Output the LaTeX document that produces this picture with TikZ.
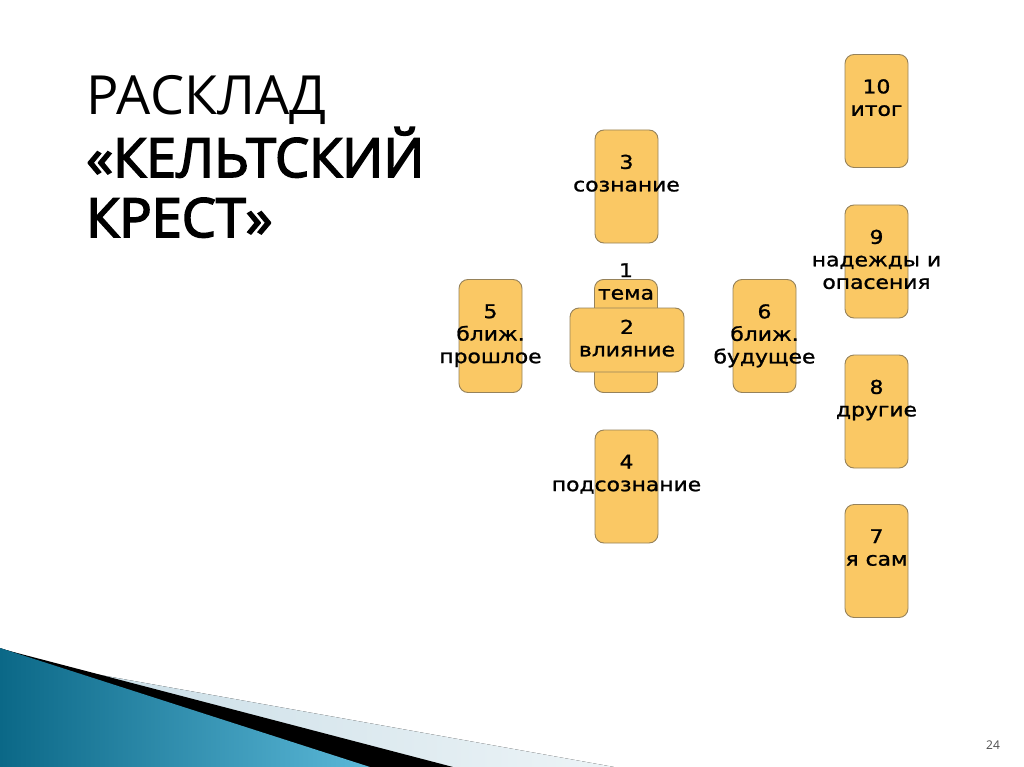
\documentclass[tikz,border=0pt]{standalone}
\usepackage{fontspec}
\setmainfont{Open Sans}
\newfontfamily\cardfont[FakeStretch=1.15,FakeBold=1.2]{DejaVu Sans}
\newfontfamily\boldA[FakeBold=3]{Open Sans}
\usetikzlibrary{calc}
\definecolor{cardfill}{HTML}{FAC864}
\definecolor{cardedge}{HTML}{96825A}
\definecolor{blueA}{HTML}{0B6887}
\definecolor{blueM}{HTML}{3E9FC2}
\definecolor{blueB}{HTML}{5BB8D8}
\definecolor{paleA}{HTML}{C4DAE4}
\definecolor{paleB}{HTML}{EDF4F7}
\begin{document}
\begin{tikzpicture}[x=1pt,y=-1pt,
  card/.style={draw=cardedge,fill=cardfill,line width=0.9pt,rounded corners=9pt,
    minimum width=63pt,minimum height=113pt,inner sep=0pt},
  hcard/.style={card,minimum width=114pt,minimum height=64pt},
  lbl/.style={font=\cardfont\fontsize{19}{22.5}\selectfont,align=center,anchor=north,inner sep=0pt},
  ttl/.style={anchor=base west,inner sep=0pt,font=\fontsize{54}{61}\selectfont},
  ttlA/.style={ttl,font=\boldA\fontsize{54}{61}\selectfont}]
\useasboundingbox[fill=white] (0,0) rectangle (1024,767);
% bottom decoration
\fill[left color=paleA,right color=paleB] (0,657) -- (614,767) -- (0,767) -- cycle;
\fill[black] (0,648.5) -- (453,767) -- (0,767) -- cycle;
\fill[left color=blueA,middle color=blueM,right color=blueB] (0,648) -- (370,767) -- (0,767) -- cycle;
% title
\node[ttl] (title1) at (86,115) {РАСКЛАД};
\node[ttlA] (title2) at (86,177) {«КЕЛЬТСКИЙ};
\node[ttlA] (title3) at (86,237) {КРЕСТ»};
% cards
\node[card] (c10) at (876.5,111) {};
\node[card] (c3) at (626.5,186.5) {};
\node[card] (c9) at (876.5,261.5) {};
\node[card] (c5) at (490.5,336) {};
\node[card] (c1) at (626,336) {};
\node[hcard] (c2) at (627,340) {};
\node[card] (c6) at (764.5,336) {};
\node[card] (c8) at (876.5,411.5) {};
\node[card] (c4) at (626.5,486.5) {};
\node[card] (c7) at (876.5,561) {};
% labels
\node[lbl] (t10) at ($(c10.north)+(0,25)$) {10\\итог};
\node[lbl] (t3) at ($(c3.north)+(0,25)$) {3\\сознание};
\node[lbl] (t9) at ($(c9.north)+(0,25)$) {9\\надежды и\\опасения};
\node[lbl] (t5) at ($(c5.north)+(0,25)$) {5\\ближ.\\прошлое};
\node[lbl] (t1) at ($(c1.north)+(0,-16)$) {1\\тема};
\node[lbl] (t2) at ($(c2.north)+(0,12)$) {2\\влияние};
\node[lbl] (t6) at ($(c6.north)+(0,25)$) {6\\ближ.\\будущее};
\node[lbl] (t8) at ($(c8.north)+(0,25)$) {8\\другие};
\node[lbl] (t4) at ($(c4.north)+(0,25)$) {4\\подсознание};
\node[lbl] (t7) at ($(c7.north)+(0,25)$) {7\\я сам};
% page number
\node[font=\fontsize{12}{14}\selectfont,text=black!70] (pg) at (993,745) {24};
\end{tikzpicture}
\end{document}
